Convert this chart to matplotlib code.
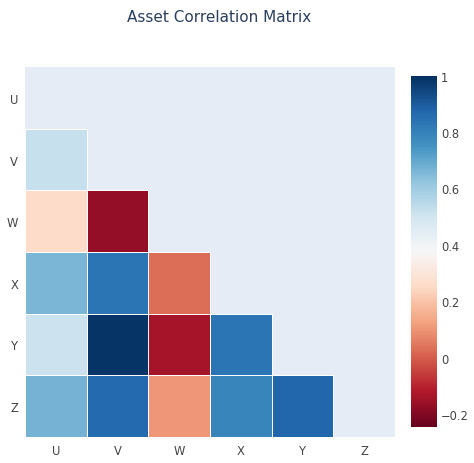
import numpy as np
import matplotlib
matplotlib.use("Agg")
import matplotlib.pyplot as plt

labels = ["U", "V", "W", "X", "Y", "Z"]
# lower-triangle correlations (row asset vs column asset)
corr_rows = {
    "V": [0.52],
    "W": [0.26, -0.17],
    "X": [0.66, 0.83, 0.03],
    "Y": [0.51, 0.99, -0.14, 0.83],
    "Z": [0.67, 0.86, 0.10, 0.79, 0.87],
}
zmin, zmax = -0.246, 1.0
colorbar_ticks = [-0.2, 0, 0.2, 0.4, 0.6, 0.8, 1]

plt.rcParams["font.family"] = ["DejaVu Sans"]

n = len(labels)
Z = np.full((n, n), np.nan)
for i, lab in enumerate(labels):
    vals = corr_rows.get(lab, [])
    for j, v in enumerate(vals):
        Z[i, j] = v
Zm = np.ma.masked_invalid(Z)

W, H = 474, 464
fig = plt.figure(figsize=(W / 100, H / 100), dpi=100)
ax = fig.add_axes([25 / W, 1 - 438 / H, 370 / W, 370 / H])
ax.set_facecolor("#E5ECF6")
mesh = ax.pcolormesh(np.arange(n + 1), np.arange(n + 1), Zm, cmap="RdBu",
                     vmin=zmin, vmax=zmax, linewidth=0.6)
edge = [(1, 1, 1, 1) if np.isfinite(v) else (0, 0, 0, 0) for v in Z.ravel()]
mesh.set_edgecolors(edge)
ax.set_xlim(0, n)
ax.set_ylim(n, 0)
ax.set_xticks(np.arange(n) + 0.5)
ax.set_xticklabels(labels)
ax.set_yticks(np.arange(n) + 0.5)
ax.set_yticklabels(labels)
ax.tick_params(length=0, labelsize=8.3, colors="#444444", pad=5)
for s in ax.spines.values():
    s.set_visible(False)

cax = fig.add_axes([411 / W, 1 - 428 / H, 26 / W, (428 - 76.7) / H])
cb = fig.colorbar(mesh, cax=cax, ticks=colorbar_ticks)
cb.outline.set_visible(False)
cb.ax.tick_params(length=0, labelsize=8.3, colors="#444444", pad=3)
cb.ax.set_yticklabels(["\u22120.2", "0", "0.2", "0.4", "0.6", "0.8", "1"])

fig.text(219 / W, 1 - 18 / H, "Asset Correlation Matrix", ha="center", va="center",
         fontsize=11, color="#2a3f5f")

fig.savefig("out.png", dpi=100)
